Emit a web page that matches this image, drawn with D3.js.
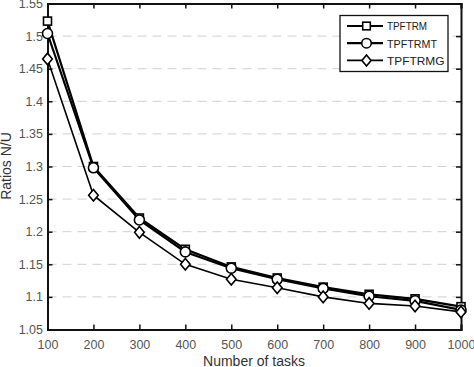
<!DOCTYPE html>
<html><head><meta charset="utf-8">
<script src="https://cdn.jsdelivr.net/npm/d3@7"></script>
<style>body{margin:0;background:#fff;} svg{display:block;font-family:"Liberation Sans",Arial,sans-serif;}</style>
</head><body>
<svg id="c" width="474" height="367"></svg>
<script>
const tasks = [100,200,300,400,500,600,700,800,900,1000];
const tpftrm  = [1.523,1.300,1.221,1.173,1.146,1.129,1.115,1.104,1.097,1.085];
const tpftrmt = [1.504,1.298,1.218,1.169,1.144,1.127,1.113,1.101,1.094,1.080];
const tpftrmg = [1.465,1.256,1.199,1.150,1.127,1.114,1.100,1.090,1.086,1.077];
const seriesNames = ["TPFTRM","TPFTRMT","TPFTRMG"];
const yTicks = [1.05,1.1,1.15,1.2,1.25,1.3,1.35,1.4,1.45,1.5,1.55];
const xTicks = tasks;

const svg = d3.select("#c");
const L=47.5, R=461, T=3.5, B=329.5;
const x = d3.scaleLinear().domain([100,1000]).range([L,R]);
const y = d3.scaleLinear().domain([1.05,1.55]).range([B,T]);

// grid
svg.append("g").selectAll("line").data(yTicks.slice(1,-1)).join("line")
  .attr("x1",L).attr("x2",R).attr("y1",d=>y(d)).attr("y2",d=>y(d))
  .attr("stroke","#d0d0d0").attr("stroke-width",1).attr("stroke-dasharray","9,6");

// axes
const gx = svg.append("g").attr("transform",`translate(0,${B})`)
  .call(d3.axisBottom(x).tickValues(xTicks).tickSize(-5).tickPadding(11).tickFormat(d3.format("d")));
const gxt = svg.append("g").attr("transform",`translate(0,${T})`)
  .call(d3.axisTop(x).tickValues(xTicks).tickSize(-5).tickFormat(""));
const gy = svg.append("g").attr("transform",`translate(${L},0)`)
  .call(d3.axisLeft(y).tickValues(yTicks).tickSize(-5).tickPadding(4.5).tickFormat(d=>String(+d.toFixed(2))));
const gyr = svg.append("g").attr("transform",`translate(${R},0)`)
  .call(d3.axisRight(y).tickValues(yTicks).tickSize(-5).tickFormat(""));
[gx,gxt,gy,gyr].forEach(g=>{
  g.select(".domain").attr("stroke","#111").attr("stroke-width",2);
  g.selectAll(".tick line").attr("stroke","#111").attr("stroke-width",1.5);
  g.selectAll("text").attr("fill","#555").style("font-size","12.5px").style("font-family","'Liberation Sans',Arial,sans-serif");
});

// axis labels
svg.append("text").attr("x",254).attr("y",365.5).attr("text-anchor","middle")
  .attr("fill","#333").style("font-size","14px").text("Number of tasks");
svg.append("text").attr("transform",`translate(10.5,166) rotate(-90)`).attr("text-anchor","middle")
  .attr("fill","#333").style("font-size","14px").text("Ratios N/U");

const data = [tpftrm,tpftrmt,tpftrmg];
const widths = [2.2,2.2,1.6];
const line = d3.line().x((d,i)=>x(tasks[i])).y(d=>y(d));

function marker(g, type, cx, cy, s){
  s = s||1;
  if(type===0) g.append("rect").attr("x",cx-4*s).attr("y",cy-4*s).attr("width",8*s).attr("height",8*s);
  else if(type===1) g.append("circle").attr("cx",cx).attr("cy",cy).attr("r",5*s);
  else g.append("path").attr("d",`M${cx},${cy-5.8*s}L${cx+4.8*s},${cy}L${cx},${cy+5.8*s}L${cx-4.8*s},${cy}Z`);
}

data.forEach((s,k)=>{
  svg.append("path").datum(s).attr("d",line).attr("fill","none").attr("stroke","#000").attr("stroke-width",widths[k]);
});
data.forEach((s,k)=>{
  const g = svg.append("g").attr("fill","#fff").attr("stroke","#000").attr("stroke-width",1.6);
  s.forEach((v,i)=>marker(g,k,x(tasks[i]),y(v)));
});

// legend
const lg = svg.append("g");
lg.append("rect").attr("x",340).attr("y",15.5).attr("width",108).attr("height",56)
  .attr("fill","#fff").attr("stroke","#111").attr("stroke-width",1.3);
const textW = [40,50,57.5];
seriesNames.forEach((n,k)=>{
  const yy = 26+k*17.2;
  lg.append("line").attr("x1",347).attr("x2",383).attr("y1",yy).attr("y2",yy).attr("stroke","#000").attr("stroke-width",widths[k]);
  const g = lg.append("g").attr("fill","#fff").attr("stroke","#000").attr("stroke-width",1.6);
  marker(g,k,366.5,yy,0.95);
  lg.append("text").attr("x",387).attr("y",yy+4.3).attr("fill","#222").style("font-size","11.5px")
    .attr("textLength",textW[k]).attr("lengthAdjust","spacingAndGlyphs").text(n);
});
</script>
</body></html>
